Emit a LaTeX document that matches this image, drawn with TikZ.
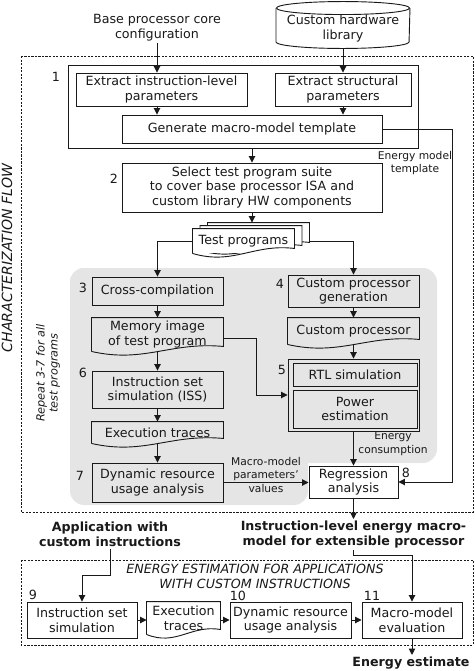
\documentclass[tikz,border=0pt]{standalone}
\usepackage{fontspec}
\setmainfont{DejaVu Sans}
\usetikzlibrary{arrows.meta,calc}

\newcommand{\docoutline}[1]{%
  \draw (#1.south west) -- (#1.north west) -- (#1.north east)
    -- ($(#1.south east)+(0,-5)$)
    .. controls ($(#1.south west)!0.6!(#1.south east)+(0,-10)$)
    and ($(#1.south west)!0.4!(#1.south east)+(0,12)$)
    .. (#1.south west);}

\begin{document}
\begin{tikzpicture}[x=0.025cm, y=-0.025cm, line width=0.65pt, color=black!90,
  font=\fontsize{9}{10.5}\selectfont, inner sep=1pt,
  >={Triangle[length=4.5pt,width=4.5pt]},
  box/.style={draw, fill=white, align=center},
  gbox/.style={box, fill=black!10},
  doc/.style={fill=white, align=center},
  gdoc/.style={doc, fill=black!10},
  lbl/.style={align=center, font=\fontsize{7.6}{9.8}\selectfont},
  bold/.style={align=center, font=\fontsize{9}{10.7}\selectfont\bfseries},
  dashframe/.style={dash pattern=on 1.5pt off 1pt},
  sz/.style 2 args={minimum width=#1cm, minimum height=#2cm}]
  \useasboundingbox (0,0) rectangle (474,671);

  \draw[dashframe] (21,56) rectangle (473,512);
  \draw[dashframe] (21,560) rectangle (473,645);
  \fill[black!10, rounded corners=10pt] (70,268) rectangle (437,463);
  \fill[black!10, rounded corners=10pt] (70,268) rectangle (308,505);

  \node[rotate=90, font=\fontsize{10}{12}\selectfont\itshape] (charflow) at (7,258) {CHARACTERIZATION FLOW};
  \node[rotate=90, align=center, font=\fontsize{8}{9.2}\selectfont\itshape] (repeat) at (48,373) {Repeat 3-7 for all\\test programs};

  \node[align=center] (base) at (157,28) {Base processor core\\configuration};
  \node[sz={3.325}{0.9875}, align=center] (lib) at (343,28.25) {Custom hardware\\library};
  \draw (lib.north) ellipse [x radius=1.6625cm, y radius=0.1625cm];
  \draw (lib.north west) -- ([yshift=0.1625cm]lib.south west) arc[start angle=180, end angle=360, x radius=1.6625cm, y radius=0.1625cm] -- (lib.north east);

  \node[box, sz={8.725}{2.075}] (stage1) at (243.5,106.5) {};
  \node (n1) at (56,77) {1};
  \node[box, sz={4.275}{0.825}] (exinstr) at (161.5,89.5) {Extract instruction-level\\parameters};
  \node[box, sz={3.4}{0.825}] (exstruct) at (343,89.5) {Extract structural\\parameters};
  \node[box, sz={6.5}{0.7}] (genmacro) at (252,129) {Generate macro-model template};

  \draw[->] (base.south) -- (base.south |- exinstr.north);
  \draw[->] (lib.south) -- (exstruct.north);
  \draw[->] (base.south |- exinstr.south) -- (base.south |- genmacro.north);
  \draw[->] (exstruct.south) -- (genmacro.north -| exstruct.south);

  \node[box, sz={6.5}{1.225}] (select) at (252,187.5) {Select test program suite\\to cover base processor ISA and\\custom library HW components};
  \node (n2) at (114,179) {2};
  \draw[->] (genmacro.south |- stage1.south) -- (select.north);

  \node[doc, sz={2.525}{0.6}] (tp3) at (258.5,235) {};
  \docoutline{tp3}
  \node[doc, sz={2.525}{0.6}] (tp2) at (251,238) {};
  \docoutline{tp2}
  \node[doc, sz={2.525}{0.6}] (tp1) at (243.5,241) {Test programs};
  \docoutline{tp1}
  \draw[->] (select.south) -- (select.south |- tp3.north);

  \node[gbox, sz={3.275}{0.7}] (crossc) at (157.5,291) {Cross-compilation};
  \node (n3) at (83,288) {3};
  \node[gbox, sz={3.275}{0.8}] (cpgen) at (353.5,291) {Custom processor\\generation};
  \node (n4) at (280,284) {4};
  \draw[->] (tp1.west) -| (crossc.north);
  \draw[->] (tp3.east |- tp1.east) -| (cpgen.north);

  \node[gdoc, sz={3.275}{0.825}] (mem) at (157.5,334.5) {Memory image\\of test program};
  \docoutline{mem}
  \node[gdoc, sz={3.275}{0.65}] (cproc) at (353.5,331) {Custom processor};
  \docoutline{cproc}
  \draw[->] (crossc.south) -- (mem.north);
  \draw[->] (cpgen.south) -- (cproc.north);

  \node[gbox, sz={3.275}{1.8}] (stage5) at (353.5,395) {};
  \node (n5) at (282,370) {5};
  \node[gbox, sz={3.1}{0.575}] (rtl) at (355,374.5) {RTL simulation};
  \node[gbox, sz={3.1}{0.95}] (power) at (355,409) {Power\\estimation};
  \draw[->] (cproc.south) -- (stage5.north);
  \draw[->] ([yshift=-3pt]mem.east) -- ++(33,0) |- (stage5.west);

  \node[gbox, sz={3.275}{0.925}] (iss) at (157.5,389.5) {Instruction set\\simulation (ISS)};
  \node (n6) at (83,373) {6};
  \node[gdoc, sz={3.275}{0.525}] (extr) at (157.5,432.5) {Execution traces};
  \docoutline{extr}
  \node[gbox, sz={3.275}{0.975}] (dyn) at (157.5,482.5) {Dynamic resource\\usage analysis};
  \node (n7) at (80,476) {7};
  \draw[->] (mem.south) -- (iss.north);
  \draw[->] (iss.south) -- (extr.north);
  \draw[->] (extr.south) -- (dyn.north);

  \node[box, sz={2.225}{0.8}] (regr) at (353.5,482) {Regression\\analysis};
  \node (n8) at (406,473) {8};
  \node[lbl] (mmp) at (266,475) {Macro-model\\parameters’\\values};
  \node[lbl] (econ) at (393,444) {Energy\\consumption};
  \node[lbl] (etpl) at (415,163) {Energy model\\template};
  \draw[->] (dyn.east) -- (dyn.east -| regr.west);
  \draw[->] (stage5.south) -- (regr.north);
  \draw[->] (genmacro.east) -- ++(70,0) |- (regr.east);

  \node[bold] (app) at (110,534.5) {Application with\\custom instructions};
  \node[bold] (ilem) at (353.5,534.5) {Instruction-level energy macro-\\model for extensible processor};
  \draw[->] (regr.south) -- (ilem.north);

  \node[align=center, font=\fontsize{9}{10.7}\selectfont\itshape] (title) at (255,576.5) {ENERGY ESTIMATION FOR APPLICATIONS\\WITH CUSTOM INSTRUCTIONS};
  \node[box, sz={2.75}{0.9}] (sim9) at (82,620) {Instruction set\\simulation};
  \node (n9) at (33,595) {9};
  \node[doc, sz={1.825}{0.8}] (extr9) at (183.5,618) {Execution\\traces};
  \docoutline{extr9}
  \node[box, sz={3.025}{0.9}] (dyn10) at (290.5,620) {Dynamic resource\\usage analysis};
  \node (n10) at (238,596) {10};
  \node[box, sz={2.5}{0.9}] (eval11) at (412,620) {Macro-model\\evaluation};
  \node (n11) at (372,596) {11};
  \node[bold] (est) at (411,663) {Energy estimate};

  \coordinate (appturn) at (110,575);
  \coordinate (ilemturn) at (353.5,555);
  \draw[->] (app.south) -- (appturn) -| (sim9.north);
  \draw[->] (ilem.south) -- (ilemturn) -| (eval11.north);
  \draw[->] (sim9.east) -- (sim9.east -| extr9.west);
  \draw[->] (extr9.east |- dyn10.west) -- (dyn10.west);
  \draw[->] (dyn10.east) -- (eval11.west);
  \draw[->] (eval11.south) -- (eval11.south |- est.north);
\end{tikzpicture}
\end{document}
